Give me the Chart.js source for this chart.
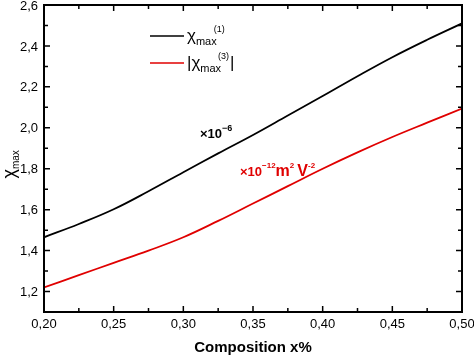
<!DOCTYPE html>
<html><head><meta charset="utf-8">
<script src="https://cdn.jsdelivr.net/npm/chart.js@4/dist/chart.umd.min.js"></script>
<style>html,body{margin:0;padding:0;background:#fff}#w{width:474px;height:355px}</style>
</head><body><div id="w"><canvas id="c" width="474" height="355"></canvas></div>
<script>
const composition = [0.20,0.225,0.25,0.275,0.30,0.325,0.35,0.375,0.40,0.425,0.45,0.475,0.50];
const chi1 = [1.465,1.530,1.602,1.690,1.783,1.875,1.965,2.060,2.155,2.252,2.345,2.430,2.510];
const chi3 = [1.220,1.280,1.340,1.400,1.465,1.545,1.630,1.715,1.800,1.880,1.955,2.025,2.094];
const xTicks = [0.20,0.25,0.30,0.35,0.40,0.45,0.50];
const yTicks = [1.2,1.4,1.6,1.8,2.0,2.2,2.4,2.6];
const xMinor = [0.225,0.275,0.325,0.375,0.425,0.475];
const yMinor = [1.1,1.3,1.5,1.7,1.9,2.1,2.3,2.5];
const FONT = "'Liberation Sans', Arial, sans-serif";

function fmt(v, d){ return v.toFixed(d).replace('.', ','); }

const deco = {
  id:'deco',
  afterDraw(chart){
    const {ctx, chartArea:a, scales:{x,y}} = chart;
    ctx.save();
    ctx.strokeStyle='#000';
    ctx.lineWidth=1.5;
    const tk=(v,len,isX)=>{
      ctx.beginPath();
      if(isX){const p=x.getPixelForValue(v);
        ctx.moveTo(p,a.bottom);ctx.lineTo(p,a.bottom-len);
        ctx.moveTo(p,a.top);ctx.lineTo(p,a.top+len);}
      else {const p=y.getPixelForValue(v);
        ctx.moveTo(a.left,p);ctx.lineTo(a.left+len,p);
        ctx.moveTo(a.right,p);ctx.lineTo(a.right-len,p);}
      ctx.stroke();
    };
    xTicks.forEach(v=>tk(v,6,true)); xMinor.forEach(v=>tk(v,4,true));
    yTicks.forEach(v=>tk(v,6,false)); yMinor.forEach(v=>tk(v,4,false));
    ctx.lineWidth=2;
    ctx.strokeRect(a.left,a.top,a.right-a.left,a.bottom-a.top);
    // tick labels
    ctx.fillStyle='#000';ctx.font='13px '+FONT;
    ctx.textAlign='center';ctx.textBaseline='middle';
    xTicks.forEach(v=>ctx.fillText(fmt(v,2),x.getPixelForValue(v),a.bottom+12));
    ctx.textAlign='right';
    yTicks.forEach(v=>ctx.fillText(fmt(v,1),a.left-6,y.getPixelForValue(v)+1));
    // legend
    const lx=a.left+106, ly1=36, ly2=63;
    ctx.lineWidth=1.5;
    ctx.strokeStyle='#000';ctx.beginPath();ctx.moveTo(lx,ly1);ctx.lineTo(lx+34,ly1);ctx.stroke();
    ctx.strokeStyle='#e00000';ctx.beginPath();ctx.moveTo(lx,ly2);ctx.lineTo(lx+34,ly2);ctx.stroke();
    ctx.fillStyle='#000';ctx.textBaseline='alphabetic';ctx.textAlign='left';
    const chiLabel=(x0,yb,sup,bars)=>{
      let cx=x0;
      ctx.font='17px '+FONT;
      if(bars){ctx.fillText('|',cx,yb);cx+=ctx.measureText('|').width;}
      ctx.fillText('χ',cx,yb);cx+=ctx.measureText('χ').width;
      ctx.font='11px '+FONT;ctx.fillText('max',cx,yb+4);
      const mw=ctx.measureText('max').width;
      ctx.font='9px '+FONT;ctx.fillText(sup,cx+mw-3,yb-9);
      cx+=mw+ctx.measureText(sup).width-3;
      if(bars){ctx.font='17px '+FONT;ctx.fillText('|',cx+1,yb);}
    };
    chiLabel(lx+37,ly1+5,'(1)',false);
    chiLabel(lx+37,ly2+5,'(3)',true);
    // annotations
    ctx.font='bold 13px '+FONT;ctx.fillStyle='#000';
    let t='×10';ctx.fillText(t,200,138);let w=ctx.measureText(t).width;
    ctx.font='bold 9px '+FONT;ctx.fillText('−6',200+w,131);
    ctx.fillStyle='#e00000';
    let ax=240, ay=176;
    ctx.font='bold 13px '+FONT;ctx.fillText('×10',ax,ay);ax+=ctx.measureText('×10').width;
    ctx.font='bold 8px '+FONT;ctx.fillText('−12',ax,ay-8);ax+=ctx.measureText('−12').width;
    ctx.font='bold 16px '+FONT;ctx.fillText('m',ax,ay);ax+=ctx.measureText('m').width;
    ctx.font='bold 8px '+FONT;ctx.fillText('2',ax,ay-8);ax+=ctx.measureText('2').width+3;
    ctx.font='bold 16px '+FONT;ctx.fillText('V',ax,ay);ax+=ctx.measureText('V').width;
    ctx.font='bold 8px '+FONT;ctx.fillText('-2',ax,ay-8);
    // axis titles
    ctx.fillStyle='#000';
    ctx.font='bold 15px '+FONT;ctx.textAlign='center';
    ctx.fillText('Composition x%',(a.left+a.right)/2,352);
    ctx.save();ctx.translate(15,(a.top+a.bottom)/2+6);ctx.rotate(-Math.PI/2);
    ctx.textAlign='left';ctx.font='18px '+FONT;ctx.fillText('χ',-14,0);
    const cw=ctx.measureText('χ').width;ctx.font='10px '+FONT;ctx.fillText('max',-14+cw,4);
    ctx.restore();
    ctx.restore();
  }
};

new Chart(document.getElementById('c'),{
  type:'line',
  data:{datasets:[
    {data:composition.map((v,i)=>({x:v,y:chi1[i]})),borderColor:'#000',borderWidth:1.8,pointRadius:0,tension:0.4},
    {data:composition.map((v,i)=>({x:v,y:chi3[i]})),borderColor:'#e00000',borderWidth:1.8,pointRadius:0,tension:0.4}
  ]},
  options:{
    responsive:false,animation:false,
    layout:{padding:{top:5,right:12,left:0,bottom:0}},
    plugins:{legend:{display:false},tooltip:{enabled:false}},
    scales:{
      x:{type:'linear',min:0.2,max:0.5,
        afterBuildTicks:s=>{s.ticks=xTicks.map(v=>({value:v}));},
        afterFit:s=>{s.height=43;},
        grid:{display:false,drawTicks:false},border:{display:false},
        ticks:{display:false}},
      y:{type:'linear',min:1.1,max:2.6,
        afterBuildTicks:s=>{s.ticks=yTicks.map(v=>({value:v}));},
        afterFit:s=>{s.width=44;},
        grid:{display:false,drawTicks:false},border:{display:false},
        ticks:{display:false}}
    }
  },
  plugins:[deco]
});
</script></body></html>
